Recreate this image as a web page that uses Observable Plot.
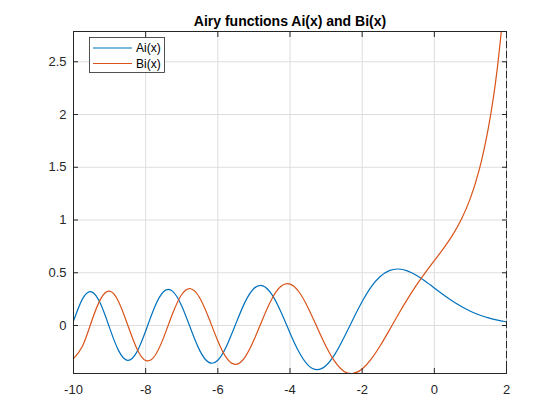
<!DOCTYPE html>
<html>
<head>
<meta charset="utf-8">
<script src="https://cdn.jsdelivr.net/npm/d3@7"></script>
<script src="https://cdn.jsdelivr.net/npm/@observablehq/plot@0.6"></script>
<style>
  body { margin: 0; background: #fff; }
</style>
</head>
<body>
<div id="chart"></div>
<script>
// values, every 0.25 in x
const xs = [-10, -9.75, -9.5, -9.25, -9, -8.75, -8.5, -8.25, -8, -7.75, -7.5, -7.25,
  -7, -6.75, -6.5, -6.25, -6, -5.75, -5.5, -5.25, -5, -4.75, -4.5, -4.25,
  -4, -3.75, -3.5, -3.25, -3, -2.75, -2.5, -2.25, -2, -1.75, -1.5, -1.25,
  -1, -0.75, -0.5, -0.25, 0, 0.25, 0.5, 0.75, 1, 1.25, 1.5, 1.75, 2]

const ai = [0.0424, 0.2526, 0.3191, 0.2053, -0.0222, -0.2383, -0.3303, -0.2546, -0.0527, 0.1750, 0.3218, 0.3238,
  0.1843, -0.0334, -0.2381, -0.3497, -0.3291, -0.1889, 0.0178, 0.2192, 0.3508, 0.3762, 0.2924, 0.1279,
  -0.0703, -0.2520, -0.3763, -0.4190, -0.3788, -0.2691, -0.1123, 0.0620, 0.2274, 0.3670, 0.4642, 0.5200,
  0.5356, 0.5178, 0.4757, 0.4187, 0.3550, 0.2912, 0.2317, 0.1793, 0.1353, 0.0996, 0.0718, 0.0506, 0.0349]

const bi = [-0.3147, -0.1953, 0.0378, 0.2501, 0.3250, 0.2255, 0.0078, -0.2145, -0.3313, -0.2893, -0.1125, 0.1156,
  0.2938, 0.3484, 0.2611, 0.0708, -0.1467, -0.3115, -0.3680, -0.3015, -0.1384, 0.0673, 0.2541, 0.3716,
  0.3921, 0.3176, 0.1691, -0.0163, -0.1981, -0.3450, -0.4350, -0.4540, -0.4123, -0.3185, -0.1918, -0.0459,
  0.1040, 0.2478, 0.3804, 0.5014, 0.6149, 0.7287, 0.8543, 1.0070, 1.2074, 1.4844, 1.8789, 2.4523, 3.2981]

const seriesNames = ['Ai(x)', 'Bi(x)']
const seriesColors = ['#0072BD', '#D95319']
const xTicks = [-10, -8, -6, -4, -2, 0, 2]
const yTicks = [0, 0.5, 1, 1.5, 2, 2.5]
const title = 'Airy functions Ai(x) and Bi(x)'

const data = xs.flatMap((x, i) => [
  {x: x, y: ai[i], s: seriesNames[0]},
  {x: x, y: bi[i], s: seriesNames[1]},
])

const font = 'Helvetica, Arial, "Liberation Sans", sans-serif'
const axisColor = '#262626'
const gridColor = '#dedede'

let chart = Plot.plot({
  width: 560,
  height: 420,
  marginLeft: 73,
  marginRight: 54,
  marginTop: 31,
  marginBottom: 47,
  x: {domain: [-10, 2]},
  y: {domain: [-0.455, 2.787]},
  color: {domain: seriesNames, range: seriesColors},
  style: {
    fontFamily: font,
    fontSize: '13px',
    color: axisColor,
    background: 'white',
  },
  marks: [
    Plot.gridX(xTicks, {stroke: gridColor, strokeOpacity: 1}),
    Plot.gridY(yTicks, {stroke: gridColor, strokeOpacity: 1}),
    Plot.line(data, {
      x: 'x',
      y: 'y',
      z: 's',
      stroke: 's',
      strokeWidth: 1.2,
      curve: 'natural',
      clip: true,
    }),
    Plot.frame({stroke: axisColor}),
    // right edge looks dashed in the reference
    Plot.ruleX([2], {stroke: '#b0b0b0', strokeDasharray: '0,7,3,0'}),
    // labels
    Plot.axisX(xTicks, {tickSize: 0, tickPadding: 11, tickFormat: d => String(d), label: null, fontSize: 13}),
    Plot.axisY(yTicks, {tickSize: 0, tickPadding: 7, tickFormat: d => String(d), label: null, fontSize: 13}),
    // inward ticks on all four sides
    Plot.axisX(xTicks, {tickSize: -5, tickFormat: () => '', label: null}),
    Plot.axisX(xTicks, {anchor: 'top', tickSize: -5, tickFormat: () => '', label: null}),
    Plot.axisY(yTicks, {tickSize: -5, tickFormat: () => '', label: null}),
    Plot.axisY(yTicks, {anchor: 'right', tickSize: -5, tickFormat: () => '', label: null}),
  ],
})

const svg = d3.select(chart)

svg.append('text')
  .attr('x', 290)
  .attr('y', 26)
  .attr('text-anchor', 'middle')
  .attr('font-family', font)
  .attr('font-size', 14)
  .attr('font-weight', 'bold')
  .attr('fill', '#000')
  .text(title)

// legend box, top left
const legend = svg.append('g')
  .attr('font-family', font)
  .attr('font-size', 12)
  .attr('text-anchor', 'start')
legend.append('rect')
  .attr('x', 89.5).attr('y', 37.5)
  .attr('width', 75).attr('height', 35)
  .attr('fill', 'white')
  .attr('stroke', axisColor)
  .attr('stroke-width', 0.8)

seriesNames.forEach((name, i) => {
  const yy = 48 + i * 15.5
  legend.append('line')
    .attr('x1', 93).attr('x2', 132)
    .attr('y1', yy).attr('y2', yy)
    .attr('stroke', seriesColors[i])
    .attr('stroke-width', 1.2)
  legend.append('text')
    .attr('x', 136).attr('y', yy)
    .attr('dy', '0.35em')
    .attr('fill', '#000')
    .text(name)
})

d3.select('#chart').append(() => chart)
</script>
</body>
</html>
